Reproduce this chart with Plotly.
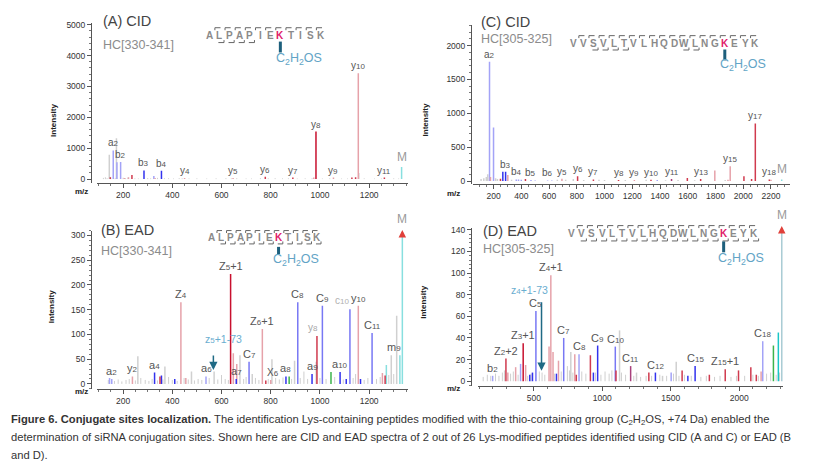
import plotly.graph_objects as go

W, H = 831, 470
def px(x): return x / W
def py(y): return 1 - y / H

SANS = "Liberation Sans, Arial, sans-serif"

# ---------------- data ----------------
# Panel A : CID  HC[330-341]
A_mz   = [144, 160, 173, 175, 190, 148, 205, 222, 236, 285, 325, 330, 356, 450, 647, 778, 890, 975, 984, 1055, 1130, 1145, 1156, 1158, 1262, 1332]
A_int  = [790, 930, 1320, 545, 555, 60, 40, 60, 130, 280, 100, 40, 270, 40, 40, 80, 50, 50, 1540, 50, 50, 60, 3430, 200, 50, 390]
A_kind = ['gray', 'lblue', 'gray', 'lblue', 'lblue', 'red', 'pink', 'pink', 'red', 'blue', 'lblue', 'pink', 'blue', 'pink', 'pink', 'red', 'red', 'pink', 'dred', 'pink', 'red', 'red', 'pink', 'gray', 'red', 'cyan']
A_noise_mz  = [120, 128, 135, 150, 168, 200, 210, 220, 248, 262, 300, 312, 340, 368, 385, 405, 428, 440, 468, 500, 540, 578, 618, 640, 662, 700, 722, 758, 790, 818, 848, 872, 908, 940, 968, 1010, 1040, 1088, 1112, 1180, 1222, 1250, 1300, 1320]
A_noise_int = [40, 60, 30, 70, 40, 45, 30, 50, 25, 20, 35, 25, 40, 30, 30, 20, 30, 25, 20, 25, 20, 25, 30, 25, 30, 20, 20, 30, 25, 30, 25, 25, 20, 25, 30, 20, 25, 20, 20, 25, 20, 20, 25, 20]
A_lab    = ["a<span style='font-size:8px'>2</span>", "b<span style='font-size:8px'>2</span>", "b<span style='font-size:8px'>3</span>", "b<span style='font-size:8px'>4</span>",
            "y<span style='font-size:8px'>4</span>", "y<span style='font-size:8px'>5</span>", "y<span style='font-size:8px'>6</span>", "y<span style='font-size:8px'>7</span>",
            "y<span style='font-size:8px'>8</span>", "y<span style='font-size:8px'>9</span>", "y<span style='font-size:8px'>10</span>", "y<span style='font-size:8px'>11</span>", "M"]
A_lab_mz = [160, 190, 285, 356, 450, 647, 778, 890, 984, 1055, 1156, 1262, 1332]

# Panel B : EAD  HC[330-341]
B_mz   = [145, 154, 238, 260, 328, 350, 356, 370, 410, 435, 455, 478, 537, 570, 637, 648, 660, 662, 675, 712, 725, 766, 780, 800, 805, 862, 875, 897, 910, 968, 985, 988, 1010, 1045, 1082, 1107, 1122, 1156, 1165, 1212, 1254, 1265, 1270, 1290, 1312, 1325, 1335]
B_int  = [12, 10, 15, 56, 23, 15, 17, 35, 10, 165, 12, 25, 15, 25, 222, 62, 10, 40, 58, 45, 20, 111, 7, 8, 50, 15, 15, 47, 165, 20, 45, 97, 158, 24, 24, 10, 151, 158, 10, 103, 22, 17, 38, 58, 138, 58, 297]
B_kind = ['lblue', 'lblue', 'pink', 'gray', 'blue', 'red', 'blue', 'gray', 'blue', 'pink', 'pink', 'gray', 'lblue', 'gray', 'dred', 'pink', 'blue', 'pink', 'gray', 'mblue', 'gray', 'pink', 'red', 'pink', 'gray', 'blue', 'green', 'gray', 'mblue', 'blue', 'gray', 'red', 'mblue', 'green', 'blue', 'blue', 'mblue', 'pink', 'blue', 'mblue', 'pink', 'red', 'cyan', 'gray', 'gray', 'cyan', 'cyan']
B_noise_mz  = [140, 165, 180, 195, 212, 225, 250, 272, 290, 305, 318, 340, 362, 385, 400, 420, 448, 465, 490, 505, 520, 550, 585, 600, 615, 628, 690, 700, 738, 752, 790, 820, 835, 850, 885, 920, 935, 950, 1000, 1025, 1060, 1095, 1135, 1145, 1180, 1195, 1230, 1245, 1280, 1300]
B_noise_int = [8, 6, 9, 5, 8, 10, 7, 12, 8, 6, 10, 7, 9, 14, 8, 6, 12, 9, 7, 10, 8, 12, 9, 18, 10, 8, 10, 14, 12, 8, 10, 12, 9, 13, 10, 12, 25, 10, 12, 10, 14, 9, 12, 20, 8, 12, 10, 14, 18, 20]
B_lab    = ["a<span style='font-size:8px'>2</span>", "y<span style='font-size:8px'>2</span>", "a<span style='font-size:8px'>4</span>", "Z<span style='font-size:8px'>4</span>",
            "a<span style='font-size:8px'>6</span>", "Z<span style='font-size:8px'>5</span>+1", "a<span style='font-size:8px'>7</span>", "C<span style='font-size:8px'>7</span>",
            "Z<span style='font-size:8px'>6</span>+1", "X<span style='font-size:8px'>6</span>", "a<span style='font-size:8px'>8</span>", "C<span style='font-size:8px'>8</span>",
            "a<span style='font-size:8px'>9</span>", "y<span style='font-size:8px'>8</span>", "C<span style='font-size:8px'>9</span>", "a<span style='font-size:8px'>10</span>",
            "c<span style='font-size:8px'>10</span>", "y<span style='font-size:8px'>10</span>", "C<span style='font-size:8px'>11</span>", "m<span style='font-size:8px'>9</span>", "M"]
B_lab_mz = [154, 238, 328, 435, 537, 637, 660, 712, 766, 800, 862, 910, 968, 988, 1010, 1082, 1122, 1156, 1212, 1290, 1335]

# Panel C : CID  HC[305-325]
C_mz   = [110, 130, 148, 158, 171, 178, 200, 215, 228, 250, 267, 287, 303, 330, 364, 380, 400, 430, 470, 500, 590, 620, 660, 693, 720, 775, 806, 850, 920, 960, 1000, 1101, 1150, 1215, 1300, 1335, 1380, 1440, 1483, 1530, 1597, 1650, 1693, 1795, 1870, 1890, 1906, 2005, 2060, 2087, 2188, 2200, 2277]
C_int  = [30, 40, 60, 100, 1762, 60, 790, 40, 30, 35, 136, 136, 90, 20, 25, 25, 20, 30, 15, 10, 10, 8, 20, 35, 20, 30, 70, 15, 25, 20, 15, 15, 15, 10, 20, 20, 15, 12, 30, 15, 45, 12, 30, 155, 15, 20, 220, 70, 30, 850, 25, 20, 25]
C_kind = ['gray', 'gray', 'gray', 'gray', 'lblue', 'pink', 'lblue', 'gray', 'gray', 'red', 'blue', 'blue', 'pink', 'gray', 'lblue', 'lblue', 'lblue', 'red', 'lblue', 'lblue', 'lblue', 'lblue', 'gray', 'pink', 'gray', 'gray', 'red', 'gray', 'red', 'gray', 'gray', 'red', 'gray', 'red', 'gray', 'red', 'lblue', 'gray', 'purple', 'gray', 'red', 'gray', 'red', 'pink', 'gray', 'pink', 'pink', 'red', 'red', 'red', 'red', 'pink', 'cyan']
C_lab    = ["a<span style='font-size:8px'>2</span>", "b<span style='font-size:8px'>3</span>", "b<span style='font-size:8px'>4</span>", "b<span style='font-size:8px'>5</span>",
            "b<span style='font-size:8px'>6</span>", "y<span style='font-size:8px'>5</span>", "y<span style='font-size:8px'>6</span>", "y<span style='font-size:8px'>7</span>",
            "y<span style='font-size:8px'>8</span>", "y<span style='font-size:8px'>9</span>", "y<span style='font-size:8px'>10</span>", "y<span style='font-size:8px'>11</span>",
            "y<span style='font-size:8px'>13</span>", "y<span style='font-size:8px'>15</span>", "y<span style='font-size:8px'>17</span>", "y<span style='font-size:8px'>18</span>", "M"]
C_lab_mz = [171, 287, 364, 470, 590, 693, 806, 920, 1101, 1215, 1335, 1483, 1693, 1906, 2087, 2188, 2277]

# Panel D : EAD  HC[305-325]
D_mz   = [199, 296, 310, 367, 403, 422, 440, 470, 490, 515, 611, 624, 640, 665, 680, 718, 770, 799, 810, 830, 913, 935, 966, 1095, 1100, 1126, 1207, 1250, 1340, 1388, 1440, 1503, 1540, 1583, 1625, 1678, 1782, 1898, 1995, 2085, 2125, 2160, 2172, 2250, 2286, 2311]
D_int  = [5, 21, 8, 13, 16, 35, 15, 6, 8, 65, 32, 98, 27, 7, 19, 40, 27, 25, 6, 25, 24, 8, 33, 32, 10, 47, 14, 8, 8, 8, 5, 8, 18, 10, 5, 14, 6, 11, 10, 13, 6, 9, 37, 33, 45, 137]
D_kind = ['lblue', 'red', 'pink', 'pink', 'lblue', 'dred', 'pink', 'blue', 'blue', 'mblue', 'pink', 'pink', 'pink', 'blue', 'pink', 'mblue', 'gray', 'pink', 'red', 'lblue', 'red', 'blue', 'blue', 'mblue', 'red', 'gray', 'purple', 'gray', 'red', 'blue', 'gray', 'lblue', 'gray', 'red', 'blue', 'blue', 'red', 'red', 'red', 'red', 'red', 'pink', 'lblue', 'green', 'aqua', 'teal']
D_noise_mz  = [130, 160, 185, 220, 245, 270, 285, 330, 350, 385, 455, 480, 540, 560, 580, 650, 700, 745, 760, 785, 850, 880, 950, 990, 1020, 1050, 1070, 1140, 1170, 1230, 1280, 1320, 1360, 1420, 1470, 1520, 1560, 1600, 1650, 1720, 1760, 1820, 1860, 1940, 1980, 2040, 2100, 2140, 2200, 2230, 2270, 2295]
D_noise_int = [4, 6, 5, 7, 5, 8, 10, 7, 9, 6, 5, 7, 9, 8, 6, 7, 9, 14, 10, 8, 9, 7, 8, 6, 9, 7, 10, 8, 6, 5, 4, 5, 5, 6, 5, 7, 5, 6, 5, 4, 5, 4, 5, 4, 5, 5, 6, 5, 7, 8, 6, 8]
D_lab    = ["b<span style='font-size:8px'>2</span>", "Z<span style='font-size:8px'>2</span>+2", "Z<span style='font-size:8px'>3</span>+1", "C<span style='font-size:8px'>5</span>",
            "Z<span style='font-size:8px'>4</span>+1", "C<span style='font-size:8px'>7</span>", "C<span style='font-size:8px'>8</span>", "C<span style='font-size:8px'>9</span>",
            "C<span style='font-size:8px'>10</span>", "C<span style='font-size:8px'>11</span>", "C<span style='font-size:8px'>12</span>", "C<span style='font-size:8px'>15</span>",
            "Z<span style='font-size:8px'>15</span>+1", "C<span style='font-size:8px'>18</span>", "M"]
D_lab_mz = [199, 296, 422, 515, 624, 718, 830, 966, 1095, 1207, 1388, 1678, 1898, 2172, 2311]

PEP_A = "ALPAPIEKTISK"
PEP_C = "VVSVLTVLHQDWLNGKEYK"
CAPTION = [
    "<b>Figure 6. Conjugate sites localization.</b> The identification Lys-containing peptides modified with the thio-containing group (C<sub>2</sub>H<sub>2</sub>OS, +74 Da) enabled the",
    "determination of siRNA conjugation sites. Shown here are CID and EAD spectra of 2 out of 26 Lys-modified peptides identified using CID (A and C) or EAD (B",
    "and D).",
]

# ---------------- styles ----------------
COL = {
    'gray': '#d0d0d0', 'lblue': '#a3a3f7', 'blue': '#3232ee', 'mblue': '#7878f4',
    'pink': '#e6a2aa', 'red': '#d03a4e', 'dred': '#c8102e', 'cyan': '#88dfdf',
    'green': '#3cb44b', 'teal': '#a9cbd4', 'aqua': '#19c6c6', 'purple': '#a8407c',
}
ORDER = ['gray', 'lblue', 'pink', 'teal', 'cyan', 'aqua', 'green', 'mblue', 'blue', 'purple', 'red', 'dred']

fig = go.Figure()

def sticks(mz, inten, kinds, xa, ya, noise=None):
    if noise:
        X, Y = [], []
        for m, v in zip(*noise):
            X += [m, m, None]; Y += [0, v, None]
        fig.add_trace(go.Scatter(x=X, y=Y, mode='lines', line=dict(color='#cfcfcf', width=1),
                                 xaxis=xa, yaxis=ya, hoverinfo='skip', showlegend=False))
    for k in ORDER:
        X, Y = [], []
        for m, v, kk in zip(mz, inten, kinds):
            if kk == k:
                X += [m, m, None]; Y += [0, v, None]
        if X:
            fig.add_trace(go.Scatter(x=X, y=Y, mode='lines', line=dict(color=COL[k], width=1.5),
                                     xaxis=xa, yaxis=ya, hoverinfo='skip', showlegend=False))

sticks(A_mz, A_int, A_kind, 'x', 'y', (A_noise_mz, A_noise_int))
sticks(B_mz, B_int, B_kind, 'x2', 'y2', (B_noise_mz, B_noise_int))
sticks(C_mz, C_int, C_kind, 'x3', 'y3')
sticks(D_mz, D_int, D_kind, 'x4', 'y4', (D_noise_mz, D_noise_int))

ann = []
shapes = []

def labels(texts, lab_mz, mz, inten, xa, ya, size, extra=None):
    extra = extra or {}
    h = dict(zip(mz, inten))
    for t, m in zip(texts, lab_mz):
        xs, ys, col, fs = 0, 0, '#555555', size
        if t in extra:
            xs, ys, col, fs = extra[t]
        ann.append(dict(x=m, y=h[m], xref=xa, yref=ya, text=t, showarrow=False,
                        yanchor='bottom', xanchor='center', xshift=xs, yshift=ys,
                        font=dict(family=SANS, size=fs, color=col)))

labels(A_lab, A_lab_mz, A_mz, A_int, 'x', 'y', 10, {"M": (0, 1, '#9a9a9a', 12)})
labels(B_lab, B_lab_mz, B_mz, B_int, 'x2', 'y2', 11, {
    "M": (0, 9, '#9a9a9a', 12),
    "y<span style='font-size:8px'>8</span>": (-4, 1, '#a8a8a8', 10),
    "c<span style='font-size:8px'>10</span>": (-8, 1, '#b0b0b0', 10),
    "m<span style='font-size:8px'>9</span>": (3, 0, '#555555', 11),
    "X<span style='font-size:8px'>6</span>": (2, 0, '#555555', 10),
})
labels(C_lab, C_lab_mz, C_mz, C_int, 'x3', 'y3', 10, {"M": (0, 1, '#9a9a9a', 12)})
labels(D_lab, D_lab_mz, D_mz, D_int, 'x4', 'y4', 11, {"M": (0, 9, '#9a9a9a', 12)})

# red arrows on top of precursor M in EAD panels
for m, v, xa, ya in [(B_mz[-1], B_int[-1], 'x2', 'y2'), (D_mz[-1], D_int[-1], 'x4', 'y4')]:
    ann.append(dict(x=m, y=v, xref=xa, yref=ya, text='', showarrow=True, ax=0, ay=8, yshift=7,
                    arrowhead=2, arrowsize=1, arrowwidth=1.5, arrowcolor='#e0403a'))

# teal neutral-loss arrows
TEAL_D = '#1f6a85'
TEAL_L = '#6aaed0'
ann.append(dict(x=567, y=28, xref='x2', yref='y2', text='', showarrow=True, ax=0, ay=-16,
                arrowhead=2, arrowsize=1.1, arrowwidth=1.5, arrowcolor=TEAL_D))
ann.append(dict(x=px(203), y=py(348), xref='paper', yref='paper', showarrow=False,
                text="z<span style='font-size:8px'>5</span>+1-73", font=dict(family=SANS, size=10.5, color=TEAL_L)))
ann.append(dict(x=556, y=9.7, xref='x4', yref='y4', text='', showarrow=True, ax=0, ay=-70,
                arrowhead=2, arrowsize=1.1, arrowwidth=1.5, arrowcolor=TEAL_D))
ann.append(dict(x=px(529), y=py(290.5), xref='paper', yref='paper', showarrow=False,
                text="z<span style='font-size:8px'>4</span>+1-73", font=dict(family=SANS, size=10.5, color=TEAL_L)))

# panel titles
for t, h, x, y1, y2 in [("(A) CID", "HC[330-341]", 101, 18, 42),
                        ("(B) EAD", "HC[330-341]", 99, 229, 251),
                        ("(C) CID", "HC[305-325]", 479, 19, 36),
                        ("(D) EAD", "HC[305-325]", 481, 230, 249)]:
    ann.append(dict(x=px(x), y=py(y1), xref='paper', yref='paper', text=t, showarrow=False,
                    xanchor='left', yanchor='middle', font=dict(family=SANS, size=14.5, color='#444444')))
    ann.append(dict(x=px(x), y=py(y2), xref='paper', yref='paper', text=h, showarrow=False,
                    xanchor='left', yanchor='middle', font=dict(family=SANS, size=12.5, color='#8c8c8c')))

# peptide diagrams
def peptide(seq, x0, dx, yc, mod, top, bot, ytop, ybot, bar0, bar1, chx, chy):
    for i, ch in enumerate(seq):
        ann.append(dict(x=px(x0 + i * dx), y=py(yc), xref='paper', yref='paper', text=f"<b>{ch}</b>",
                        showarrow=False, xanchor='center', yanchor='middle',
                        font=dict(family=SANS, size=10, color='#e0206a' if i == mod else '#8a8a8a')))
    ln = dict(color='#666666', width=1)
    for i in top:
        xc = x0 + i * dx
        a, b = xc - dx / 2 + 0.5, xc + dx / 2 - 4
        shapes.append(dict(type='line', xref='paper', yref='paper', x0=px(a), x1=px(b), y0=py(ytop), y1=py(ytop), line=ln))
        shapes.append(dict(type='line', xref='paper', yref='paper', x0=px(a), x1=px(a), y0=py(ytop), y1=py(ytop + 2.5), line=ln))
    for i in bot:
        xc = x0 + i * dx
        a, b = xc - dx / 2 + 4, xc + dx / 2 - 0.5
        shapes.append(dict(type='line', xref='paper', yref='paper', x0=px(a), x1=px(b), y0=py(ybot), y1=py(ybot), line=ln))
        shapes.append(dict(type='line', xref='paper', yref='paper', x0=px(b), x1=px(b), y0=py(ybot), y1=py(ybot - 2.5), line=ln))
    xm = x0 + mod * dx
    shapes.append(dict(type='line', xref='paper', yref='paper', x0=px(xm), x1=px(xm), y0=py(bar0), y1=py(bar1),
                       line=dict(color='#1d5f7c', width=3)))
    ann.append(dict(x=px(chx), y=py(chy), xref='paper', yref='paper', text="C<sub>2</sub>H<sub>2</sub>OS",
                    showarrow=False, xanchor='left', yanchor='middle', font=dict(family=SANS, size=12.5, color='#62a4c6')))

peptide(PEP_A, 209.3, 10.15, 33, 7, range(1, 12), range(1, 5), 25, 40, 39, 50, 274, 57)
peptide(PEP_A, 211.7, 9.55, 237.3, 7, range(1, 12), range(1, 12), 230, 243.5, 246.5, 254, 271, 260)
peptide(PEP_C, 573.3, 10.1, 41, 15, range(1, 19), [2, 3, 4, 5, 11, 12], 33, 47.5, 47, 58, 718, 63)
peptide(PEP_C, 571.7, 10.13, 233.3, 15, range(1, 19), range(1, 19), 225, 240.5, 241, 252, 716, 258.5)

# axis titles
for x, y in [(73, 191), (73, 399), (454, 193), (454, 396)]:
    ann.append(dict(x=px(x), y=py(y), xref='paper', yref='paper', text="<b>m/z</b>", showarrow=False,
                    font=dict(family=SANS, size=8, color='#222222')))
for x, y in [(47, 100), (45, 307), (425, 100), (424, 303)]:
    ann.append(dict(x=px(x), y=py(y), xref='paper', yref='paper', text="<b>Intensity</b>", showarrow=False,
                    textangle=-90, font=dict(family=SANS, size=8, color='#222222')))

# caption
for i, line in enumerate(CAPTION):
    ann.append(dict(x=px(9), y=py(421 + 18 * i), xref='paper', yref='paper', text=line, showarrow=False,
                    xanchor='left', yanchor='middle', align='left',
                    font=dict(family=SANS, size=11.2, color='#333333')))

def xax(dom, rng, dt, mdt):
    return dict(domain=[px(dom[0]), px(dom[1])], range=rng, tick0=0, dtick=dt, ticks='outside', ticklen=4,
                tickcolor='#555', showline=True, linecolor='#555', linewidth=1, showgrid=False, zeroline=False,
                tickfont=dict(family=SANS, size=8.5, color='#333'),
                minor=dict(tick0=0, dtick=mdt, ticks='outside', ticklen=2, tickcolor='#777', showgrid=False))

def yax(dom, rng, dt, mdt, pos):
    return dict(domain=[py(dom[1]), py(dom[0])], range=rng, tick0=0, dtick=dt, ticks='outside', ticklen=4,
                tickcolor='#555', showline=True, linecolor='#555', linewidth=1, showgrid=False, zeroline=False,
                anchor='free', position=px(pos),
                tickfont=dict(family=SANS, size=8.5, color='#333'),
                minor=dict(tick0=0, dtick=mdt, ticks='outside', ticklen=2, tickcolor='#777', showgrid=False))

fig.update_layout(
    width=W, height=H, autosize=False, margin=dict(l=0, r=0, t=0, b=0),
    paper_bgcolor='white', plot_bgcolor='white', showlegend=False,
    xaxis=dict(xax((97, 408), [94, 1358], 200, 50), anchor='y'),
    yaxis=yax((20, 182), [-128, 5064], 1000, 200, 91),
    xaxis2=dict(xax((97, 408), [94, 1358], 200, 50), anchor='y2'),
    yaxis2=yax((230, 390), [-10, 310], 50, 10, 91),
    xaxis3=dict(xax((473, 790), [52, 2337], 200, 50), anchor='y3'),
    yaxis3=yax((22, 183), [-44, 2307], 500, 100, 471),
    xaxis4=dict(xax((478, 783), [92, 2320], 500, 100), anchor='y4'),
    yaxis4=yax((227, 387), [-4.3, 142], 20, 4, 471),
    annotations=ann, shapes=shapes,
)

fig.write_html("out.html")
